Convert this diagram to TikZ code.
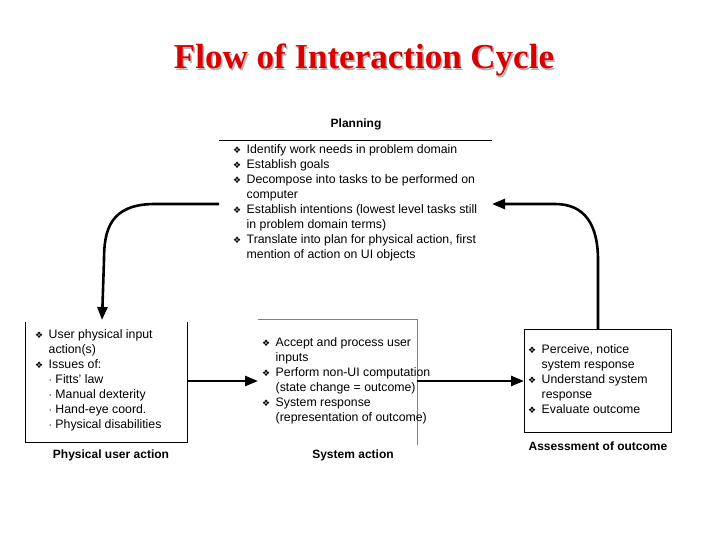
\documentclass[tikz,border=0pt]{standalone}
\usepackage{fontspec}
\setmainfont{Liberation Sans}
\newfontfamily\titlefont{Liberation Serif}
\newfontfamily\bulfont{DejaVu Sans}
\usetikzlibrary{arrows.meta}
\newcommand{\bul}{{\bulfont\fontsize{9}{9}\selectfont ❖}\ \,}
\begin{document}
\begin{tikzpicture}[x=1pt,y=-1pt,
  txt/.style={anchor=north west,align=left,font=\fontsize{12.3}{15}\selectfont,inner sep=0pt},
  lab/.style={font=\bfseries\fontsize{12}{14}\selectfont,inner sep=0pt},
  arr/.style={line width=2.6pt,-{Triangle[length=13pt,width=10pt]}},
  box/.style={line width=0.8pt}]
\useasboundingbox (0,0) rectangle (720,540);
\node[font=\titlefont\bfseries\fontsize{35}{36}\selectfont,text=gray!60] at (365.5,61.5) {Flow of Interaction Cycle};
\node (title)[font=\titlefont\bfseries\fontsize{35}{36}\selectfont,text=red!85!black] at (364,60) {Flow of Interaction Cycle};
% Planning
\node (plan)[lab] at (356,124) {Planning};
\draw[box] (219,140) -- (492,140);
\node (plantxt)[txt] at (233,144) {\bul Identify work needs in problem domain\\
\bul Establish goals\\
\bul Decompose into tasks to be performed on\\
\hphantom{\bul}computer\\
\bul Establish intentions (lowest level tasks still\\
\hphantom{\bul}in problem domain terms)\\
\bul Translate into plan for physical action, first\\
\hphantom{\bul}mention of action on UI objects};
% Physical
\draw[box] (25,322) -- (25,442) -- (187,442) -- (187,322);
\node (phys)[txt] at (35,329) {\bul User physical input\\
\hphantom{\bul}action(s)\\
\bul Issues of:\\
\hphantom{\bul}$\cdot$ Fitts' law\\
\hphantom{\bul}$\cdot$ Manual dexterity\\
\hphantom{\bul}$\cdot$ Hand-eye coord.\\
\hphantom{\bul}$\cdot$ Physical disabilities};
\node (physlab)[lab] at (111,455) {Physical user action};
% System
\draw[box,gray] (258,319) -- (417,319) -- (417,445);
\node (sys)[txt] at (262,337) {\bul Accept and process user\\
\hphantom{\bul}inputs\\
\bul Perform non-UI computation\\
\hphantom{\bul}(state change = outcome)\\
\bul System response\\
\hphantom{\bul}(representation of outcome)};
\node (syslab)[lab] at (353,455) {System action};
% Assessment
\draw[box] (524,329) rectangle (671,432);
\node (ass)[txt] at (528,344) {\bul Perceive, notice\\
\hphantom{\bul}system response\\
\bul Understand system\\
\hphantom{\bul}response\\
\bul Evaluate outcome};
\node (asslab)[lab] at (598,446) {Assessment of outcome};
% connectors
\coordinate (pl) at (219,204);
\coordinate (pr) at (492,204);
\coordinate (pd) at (102,320);
\coordinate (au) at (598,329);
\draw[arr] (pl) -- (155,204) .. controls (110,204) and (104,230) .. (104,260) -- (pd);
\draw[arr] (au) -- (598,260) .. controls (598,225) and (585,204) .. (555,204) -- (pr);
\coordinate (a1) at (187,381); \coordinate (b1) at (258,381);
\coordinate (a2) at (417,381); \coordinate (b2) at (524,381);
\draw[arr] (a1) -- (b1);
\draw[arr] (a2) -- (b2);
\end{tikzpicture}
\end{document}
